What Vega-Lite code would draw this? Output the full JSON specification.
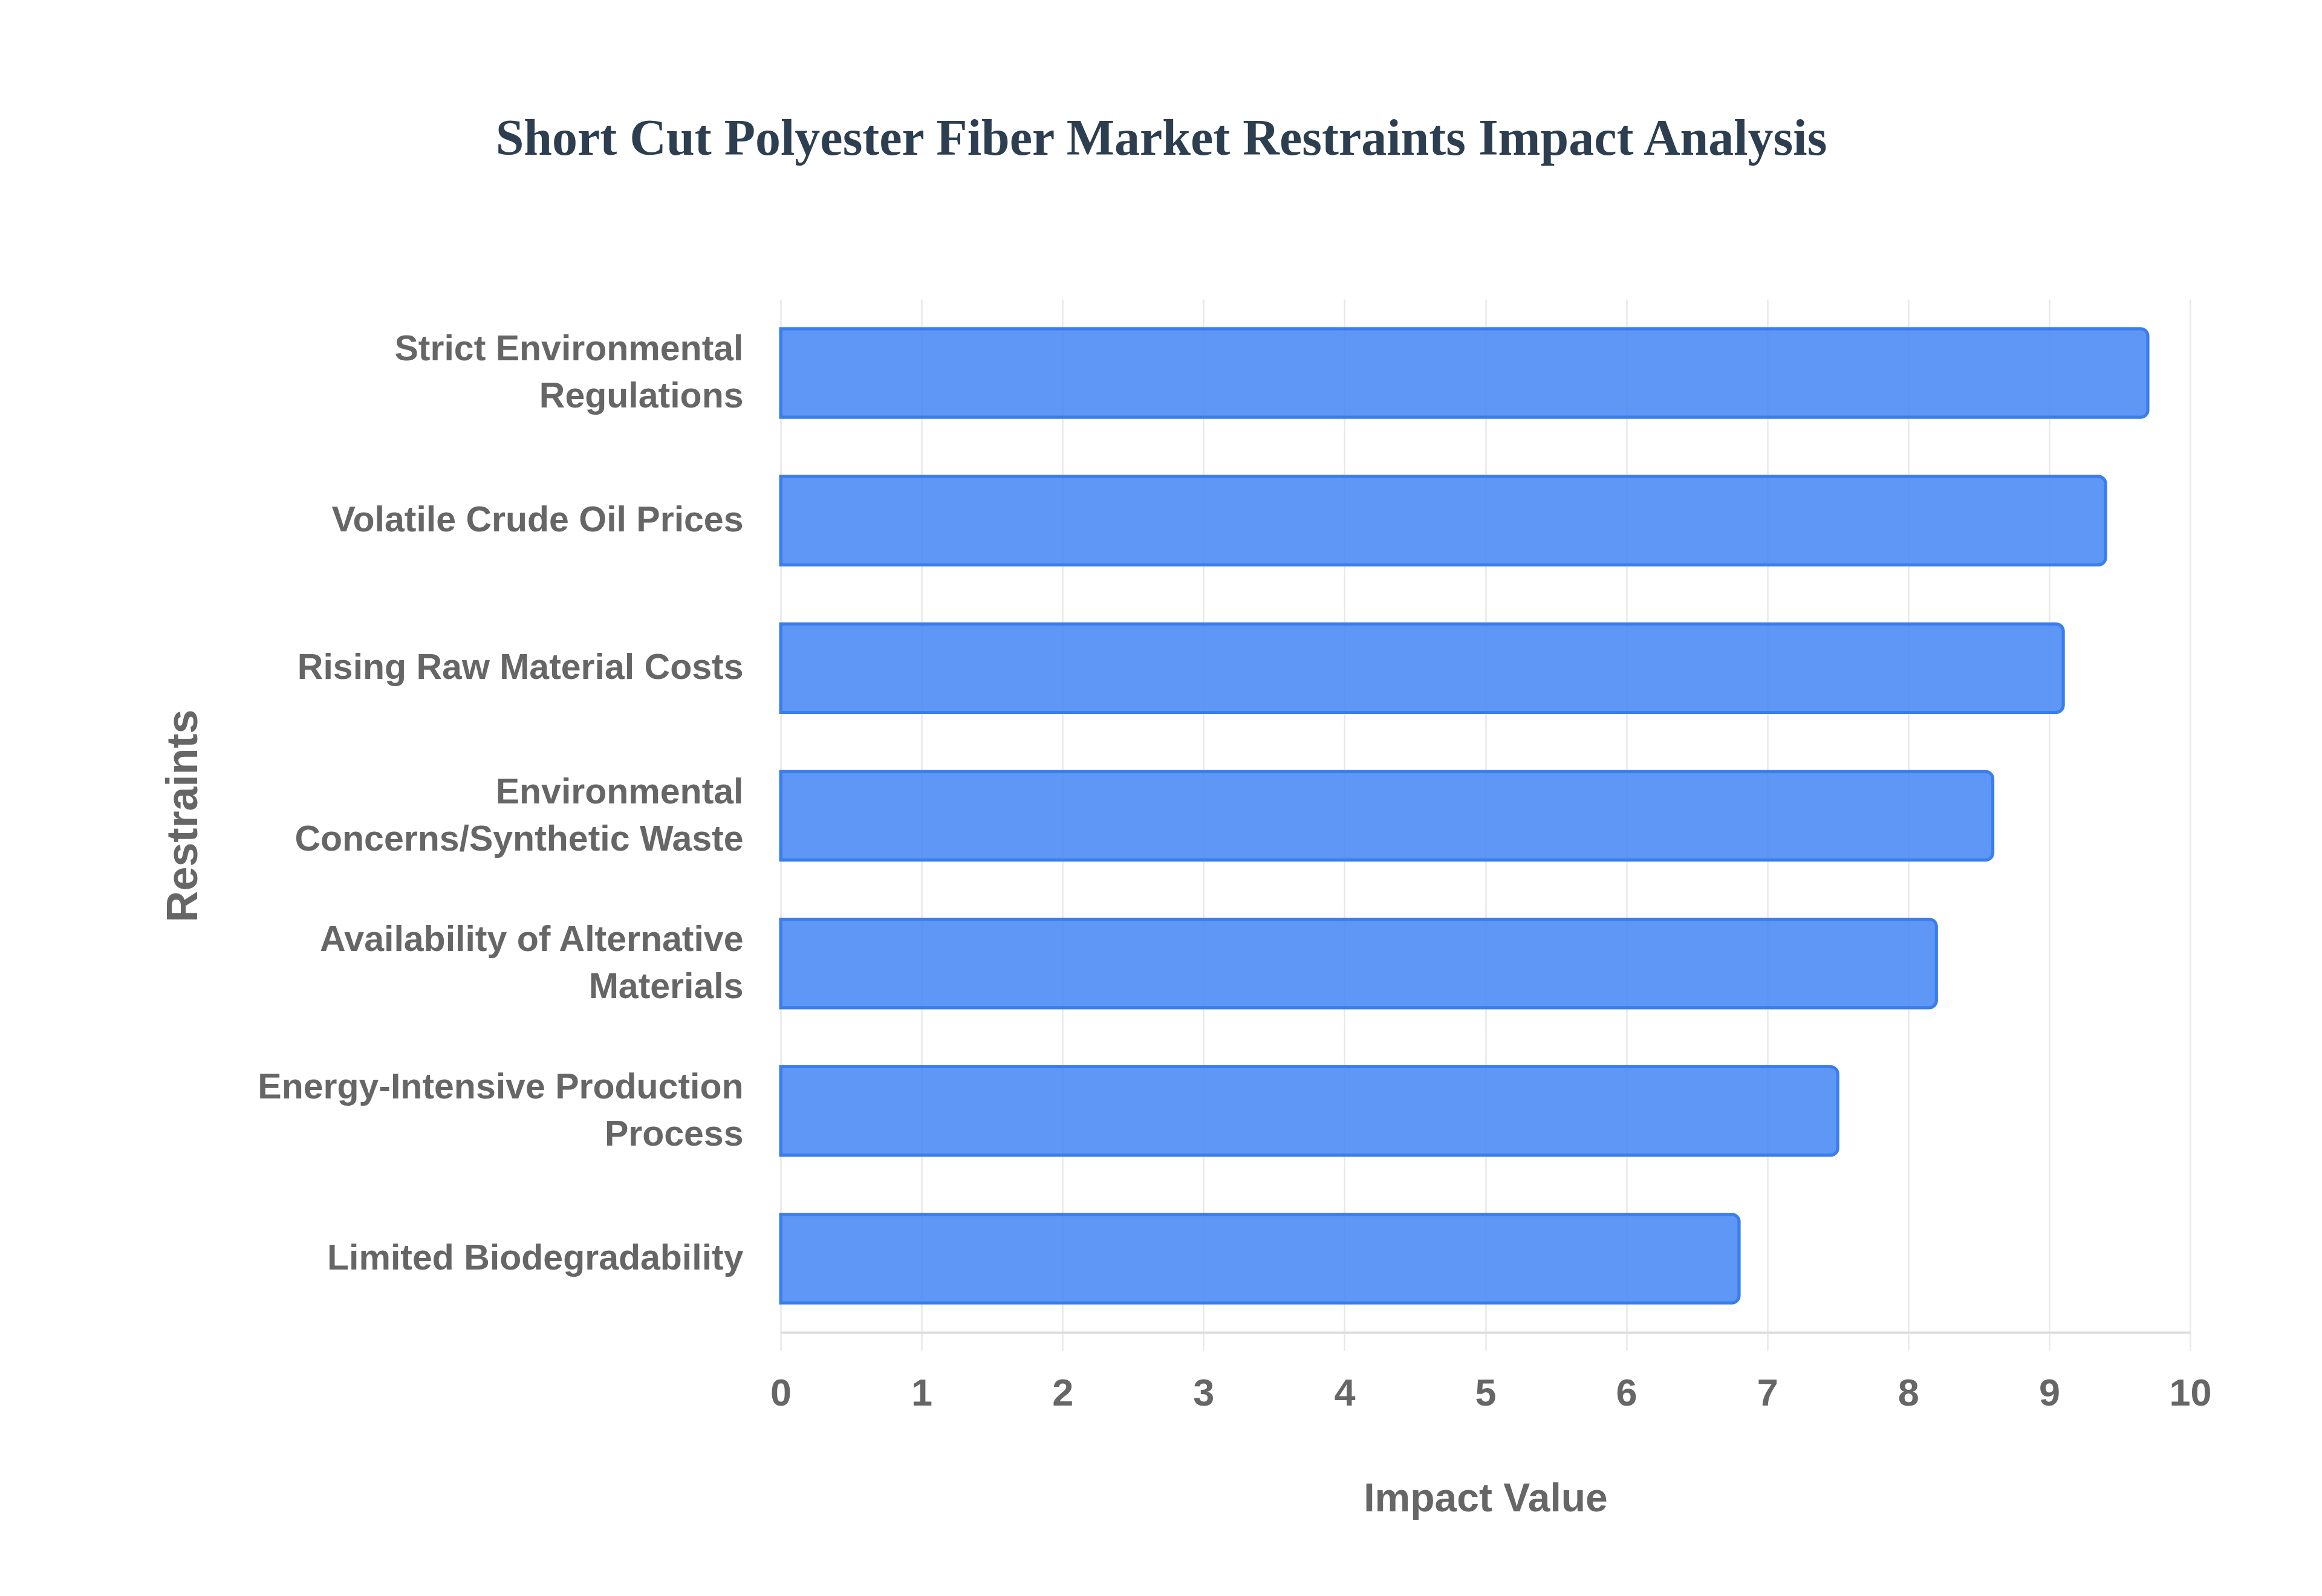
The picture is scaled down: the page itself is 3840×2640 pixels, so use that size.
{
  "$schema": "https://vega.github.io/schema/vega-lite/v6.json",
  "width": 2331,
  "height": 1709,
  "autosize": {"type": "none"},
  "padding": {"left": 1291, "top": 495, "right": 218, "bottom": 436},
  "background": "white",
  "title": {
    "text": "Short Cut Polyester Fiber Market Restraints Impact Analysis",
    "font": "Liberation Serif",
    "fontSize": 84,
    "fontWeight": "bold",
    "color": "#2c3e50",
    "anchor": "middle",
    "dx": -536,
    "baseline": "alphabetic",
    "offset": 155
  },
  "data": {
    "values": [
      {"restraint": "Strict Environmental Regulations", "impact": 9.7},
      {"restraint": "Volatile Crude Oil Prices", "impact": 9.4},
      {"restraint": "Rising Raw Material Costs", "impact": 9.1},
      {"restraint": "Environmental Concerns/Synthetic Waste", "impact": 8.6},
      {"restraint": "Availability of Alternative Materials", "impact": 8.2},
      {"restraint": "Energy-Intensive Production Process", "impact": 7.5},
      {"restraint": "Limited Biodegradability", "impact": 6.8}
    ]
  },
  "mark": {
    "type": "bar",
    "fill": "#4285F4",
    "fillOpacity": 0.85,
    "stroke": "#3a7ded",
    "strokeWidth": 5,
    "cornerRadiusEnd": 12
  },
  "encoding": {
    "y": {
      "field": "restraint",
      "type": "nominal",
      "sort": null,
      "scale": {"paddingInner": 0.4, "paddingOuter": 0.2},
      "axis": {
        "title": "Restraints",
        "titleFont": "Liberation Sans",
        "titleFontSize": 72,
        "titleFontWeight": "bold",
        "titleColor": "#666666",
        "titleAngle": -90,
        "titleAlign": "center",
        "titleBaseline": "middle",
        "titleX": -988,
        "titleY": 854,
        "labelFont": "Liberation Sans",
        "labelFontSize": 59,
        "labelFontWeight": "bold",
        "labelColor": "#666666",
        "labelLineHeight": 78,
        "labelPadding": 62,
        "labelLimit": 1200,
        "labelOffset": {
          "condition": {
            "test": "indexof(['Strict Environmental Regulations', 'Environmental Concerns/Synthetic Waste', 'Availability of Alternative Materials', 'Energy-Intensive Production Process'], datum.value) >= 0",
            "value": -39
          },
          "value": 0
        },
        "ticks": false,
        "domain": false,
        "labelExpr": "datum.value == 'Strict Environmental Regulations' ? ['Strict Environmental', 'Regulations'] : datum.value == 'Environmental Concerns/Synthetic Waste' ? ['Environmental', 'Concerns/Synthetic Waste'] : datum.value == 'Availability of Alternative Materials' ? ['Availability of Alternative', 'Materials'] : datum.value == 'Energy-Intensive Production Process' ? ['Energy-Intensive Production', 'Process'] : datum.value"
      }
    },
    "x": {
      "field": "impact",
      "type": "quantitative",
      "scale": {"domain": [0, 10], "nice": false},
      "axis": {
        "title": "Impact Value",
        "titleFont": "Liberation Sans",
        "titleFontSize": 66,
        "titleFontWeight": "bold",
        "titleColor": "#666666",
        "titleBaseline": "middle",
        "titleY": 275,
        "values": [0, 1, 2, 3, 4, 5, 6, 7, 8, 9, 10],
        "labelFont": "Liberation Sans",
        "labelFontSize": 63,
        "labelFontWeight": "bold",
        "labelColor": "#666666",
        "labelPadding": 40,
        "labelFlush": false,
        "grid": true,
        "gridColor": "#e8e8e8",
        "gridWidth": 2.5,
        "tickColor": "#e8e8e8",
        "tickWidth": 2.5,
        "tickSize": 30,
        "domainColor": "#dddddd",
        "domainWidth": 4
      }
    }
  },
  "config": {"view": {"stroke": null}}
}
